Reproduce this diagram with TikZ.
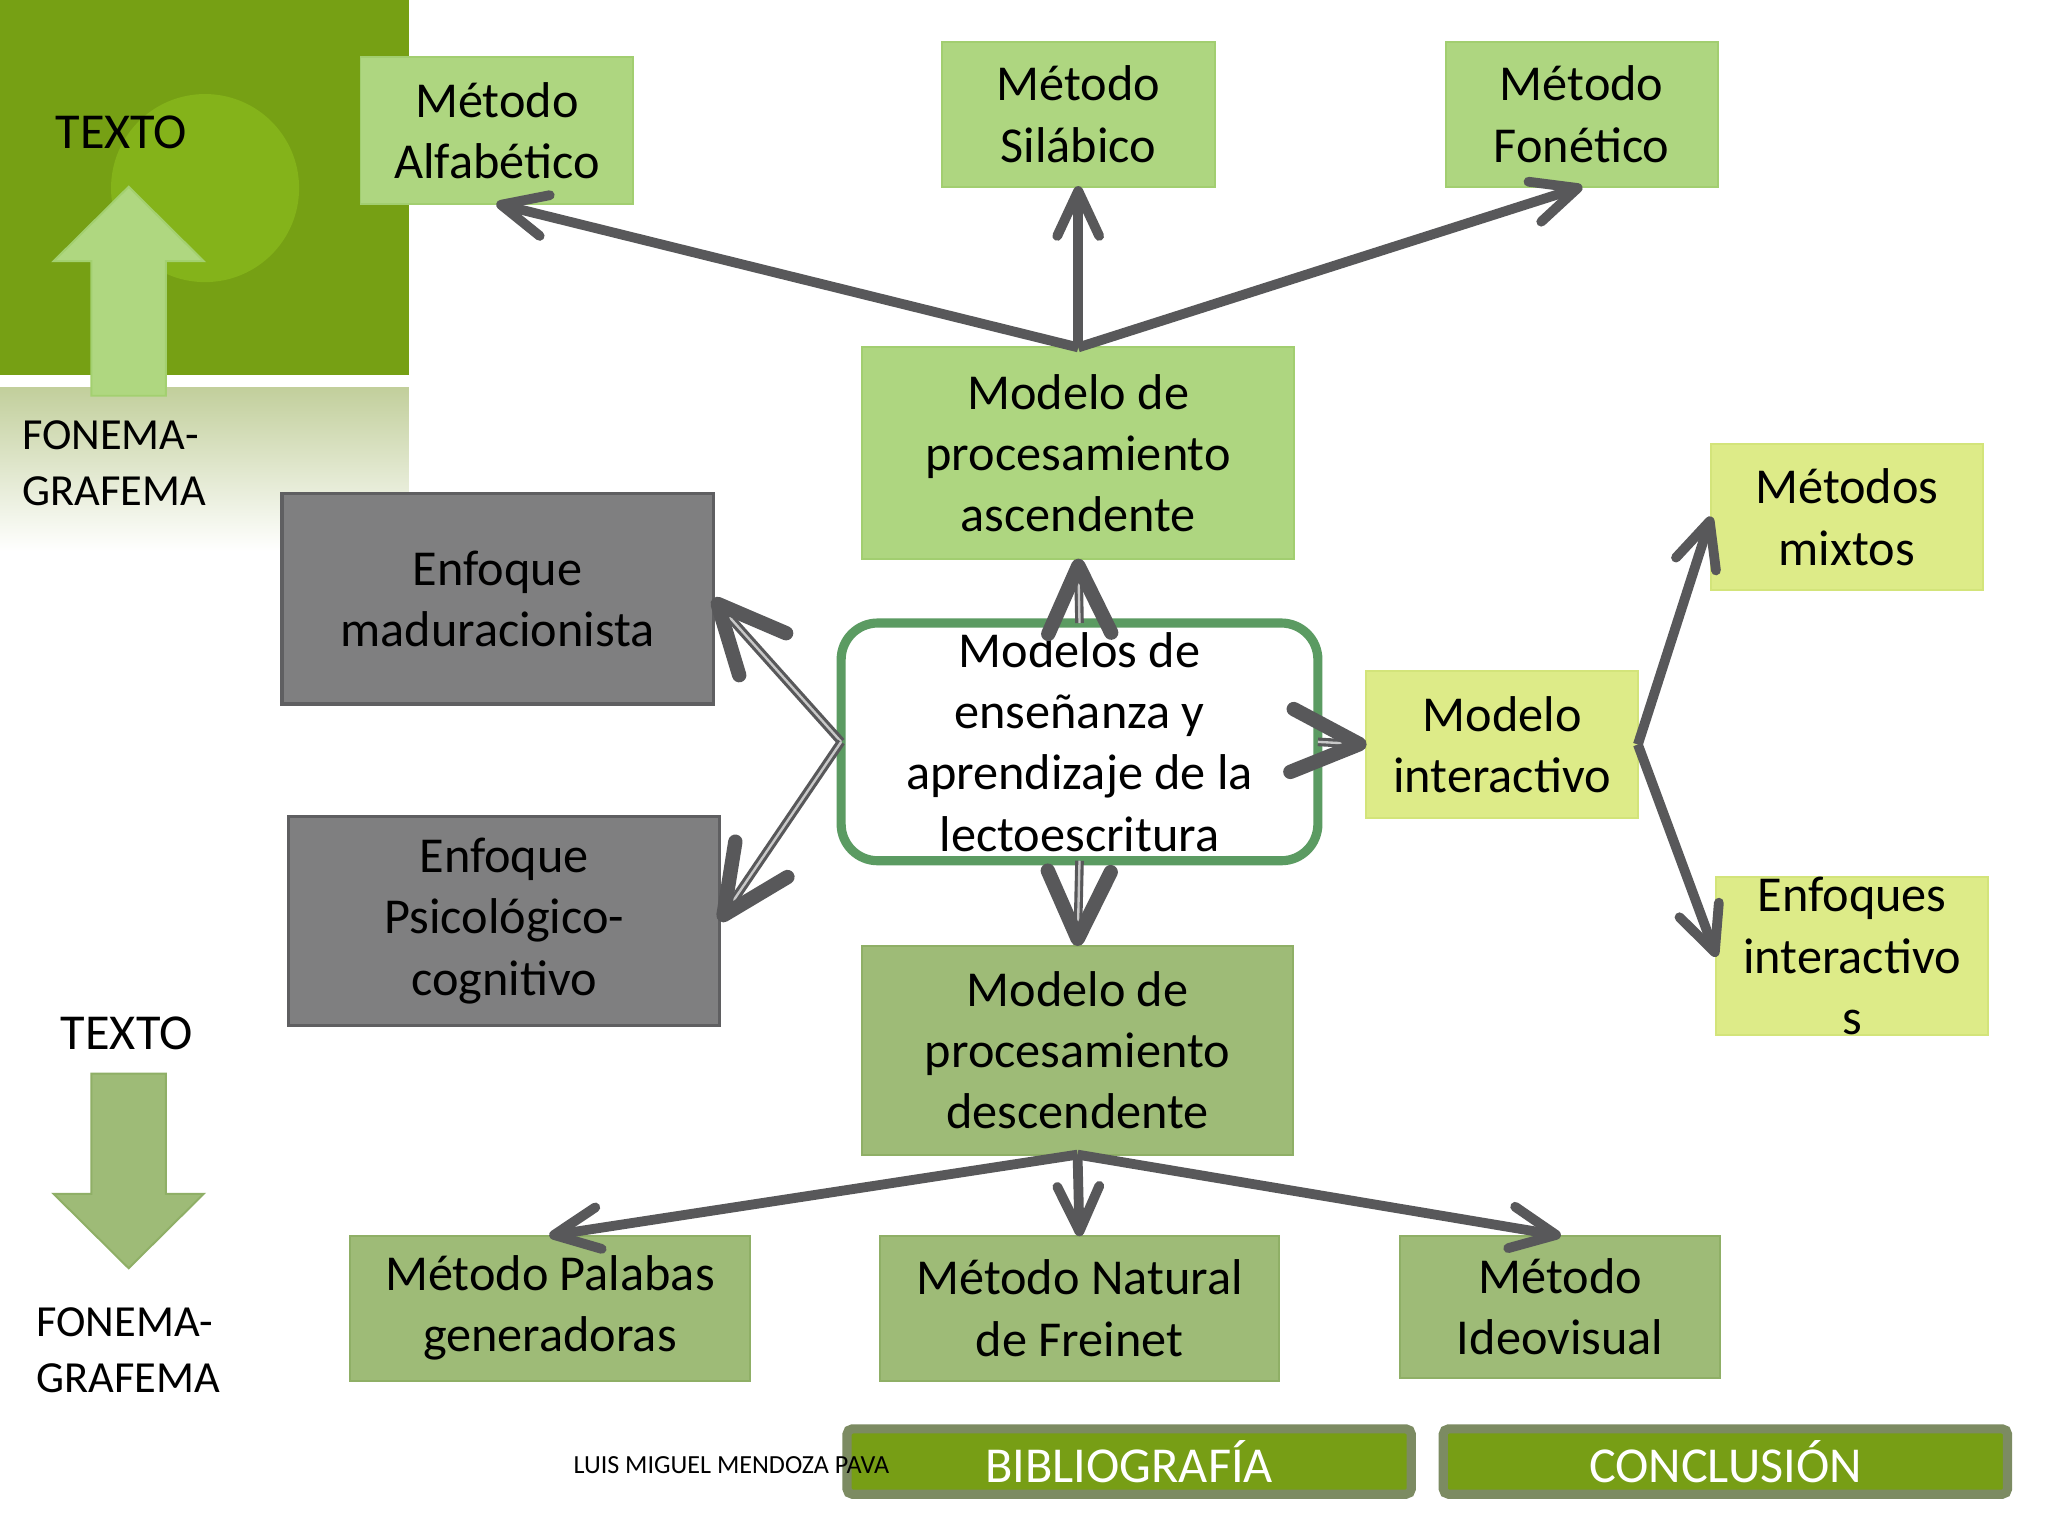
\documentclass[tikz,border=0pt]{standalone}
\usepackage{fontspec}
\setmainfont{Carlito}
\usetikzlibrary{calc}
\definecolor{topgreen}{HTML}{76A014}
\definecolor{circgreen}{HTML}{84B31A}
\definecolor{bandtop}{HTML}{C2CF9C}
\definecolor{upfill}{HTML}{AFD780}
\definecolor{updraw}{HTML}{A3D070}
\definecolor{lgfill}{HTML}{AED680}
\definecolor{lgdraw}{HTML}{A2CE70}
\definecolor{grfill}{HTML}{7F7F80}
\definecolor{grdraw}{HTML}{5F5F61}
\definecolor{sgfill}{HTML}{9EBB77}
\definecolor{sgdraw}{HTML}{8FAF66}
\definecolor{ygfill}{HTML}{DDEB88}
\definecolor{ygdraw}{HTML}{D3E47A}
\definecolor{cenborder}{HTML}{5B9B62}
\definecolor{agray}{HTML}{58585A}
\definecolor{ainner}{HTML}{C8C8C8}
\definecolor{btnouter}{HTML}{7C8B62}
\definecolor{btninner}{HTML}{779E15}
\newcommand\myNodeFont{\fontsize{19.25pt}{23.5pt}\selectfont}
\newcommand\mySmallFont{\fontsize{17pt}{21.5pt}\selectfont}
\newcommand\conarrow[2]{%
  \coordinate (tmpT) at ($(#2)!1.6pt!(#1)$);
  \draw[conn] (#1) -- (tmpT);
  \draw[headln] ($(tmpT)!19pt!25:(#1)$) -- (tmpT) -- ($(tmpT)!19pt!-25:(#1)$);
}
\newcommand\bigarrow[2]{%
  \coordinate (tmpT) at ($(#2)!2.6pt!(#1)$);
  \draw[dbl] (#1) -- (tmpT);
  \draw[bighead] ($(tmpT)!28.5pt!25:(#1)$) -- (tmpT) -- ($(tmpT)!28.5pt!-25:(#1)$);
}
\tikzset{
  box/.style={rectangle, inner sep=0pt, outer sep=0pt, align=center, font=\myNodeFont, text=black},
  lg/.style={box, fill=lgfill, draw=lgdraw, line width=0.75pt},
  gr/.style={box, fill=grfill, draw=grdraw, line width=1.25pt},
  sg/.style={box, fill=sgfill, draw=sgdraw, line width=0.75pt},
  yg/.style={box, fill=ygfill, draw=ygdraw, line width=0.75pt},
  cenbox/.style={box, fill=white, draw=cenborder, line width=3.5pt, rounded corners=14pt},
  lbl/.style={inner sep=0pt, outer sep=0pt, font=\myNodeFont, text=black},
  lblsmall/.style={inner sep=0pt, outer sep=0pt, font=\mySmallFont, text=black, align=left, anchor=west},
  conn/.style={draw=agray, line width=3.75pt},
  headln/.style={draw=agray, line width=3.75pt, line cap=round, line join=round},
  bighead/.style={draw=agray, line width=5.5pt, line cap=round, line join=round},
  dbl/.style={draw=agray, line width=1.2pt, double=ainner, double distance=0.9pt},
  btn/.style={rectangle, inner sep=0pt, outer sep=0pt, fill=btninner, draw=btnouter, line width=3.5pt, rounded corners=2pt, minimum width=216pt, minimum height=25pt, font=\myNodeFont, text=white}
}
\begin{document}
\begin{tikzpicture}[x=0.5pt,y=-0.5pt]
\useasboundingbox (0,0) rectangle (1568,1176);
\fill[white] (0,0) rectangle (1568,1176);
% top-left decoration
\fill[topgreen] (0,0) rectangle (313,287);
\fill[circgreen] (157,144) circle[radius=36pt];
\shade[top color=bandtop, bottom color=white] (0,297) rectangle (313,422);
\filldraw[fill=upfill, draw=updraw, line width=0.75pt] (70,303) -- (70,200) -- (41,200) -- (98.5,143) -- (156,200) -- (127,200) -- (127,303) -- cycle;
\node[lbl] (texto1) at (93,101) {TEXTO};
\node[lblsmall] (fon1) at (17,354.5) {FONEMA-\\GRAFEMA};
% bottom-left decoration
\node[lbl] (texto2) at (97,791) {TEXTO};
\filldraw[fill=sgfill, draw=sgdraw, line width=0.75pt] (70,822) -- (127,822) -- (127,914) -- (156,914) -- (98.5,971) -- (41,914) -- (70,914) -- cycle;
\node[lblsmall] (fon2) at (28,1034) {FONEMA-\\GRAFEMA};
% nodes
\node[lg, minimum width=104.5pt, minimum height=56pt] (alf) at (380.5,100) {Método\\Alfabético};
\node[lg, minimum width=104.5pt, minimum height=55.5pt] (sil) at (825.5,87.5) {Método\\Silábico};
\node[lg, minimum width=104pt, minimum height=55.5pt] (fon) at (1211,87.5) {Método\\Fonético};
\node[lg, minimum width=165.5pt, minimum height=81pt] (asc) at (825.5,347) {Modelo de\\procesamiento\\ascendente};
\node[gr, minimum width=165pt, minimum height=80.5pt] (mad) at (381,458.5) {Enfoque\\maduracionista};
\node[gr, minimum width=165pt, minimum height=80pt] (psi) at (386,705) {Enfoque\\Psicológico-\\cognitivo};
\node[cenbox, minimum width=182.5pt, minimum height=91pt] (cen) at (826.5,568) {Modelos de\\enseñanza y\\aprendizaje de la\\lectoescritura};
\node[yg, minimum width=104pt, minimum height=56pt] (inter) at (1150,570) {Modelo\\interactivo};
\node[yg, minimum width=104pt, minimum height=56pt] (mix) at (1414,396) {Métodos\\mixtos};
\node[yg, minimum width=104pt, minimum height=56pt] (enf) at (1418,732) {Enfoques\\interactivo\\s};
\node[sg, minimum width=165pt, minimum height=80pt] (desc) at (825,804) {Modelo de\\procesamiento\\descendente};
\node[sg, minimum width=153pt, minimum height=55.5pt] (pal) at (421,1001.5) {Método Palabas\\generadoras};
\node[sg, minimum width=152.5pt, minimum height=55.5pt] (nat) at (826.5,1001.5) {Método Natural\\de Freinet};
\node[sg, minimum width=122.5pt, minimum height=54.5pt] (ideo) at (1194.5,1000.5) {Método\\Ideovisual};
% connectors
\conarrow{asc.north}{alf.south}
\conarrow{asc.north}{sil.south}
\conarrow{asc.north}{fon.south}
\conarrow{desc.south}{pal.north}
\conarrow{desc.south}{nat.north}
\conarrow{desc.south}{ideo.north}
\conarrow{inter.east}{mix.west}
\conarrow{inter.east}{enf.west}
\bigarrow{cen.north}{asc.south}
\bigarrow{cen.south}{desc.north}
\bigarrow{cen.east}{inter.west}
\bigarrow{cen.west}{mad.east}
\bigarrow{cen.west}{psi.east}
% buttons
\node[btn] (bib) at (864.5,1119) {BIBLIOGRAFÍA};
\node[btn] (conc) at (1321,1119) {CONCLUSIÓN};
\node[inner sep=0pt, font=\fontsize{10pt}{12pt}\selectfont, text=black] (autor) at (560,1122) {LUIS MIGUEL MENDOZA PAVA};
\end{tikzpicture}
\end{document}
